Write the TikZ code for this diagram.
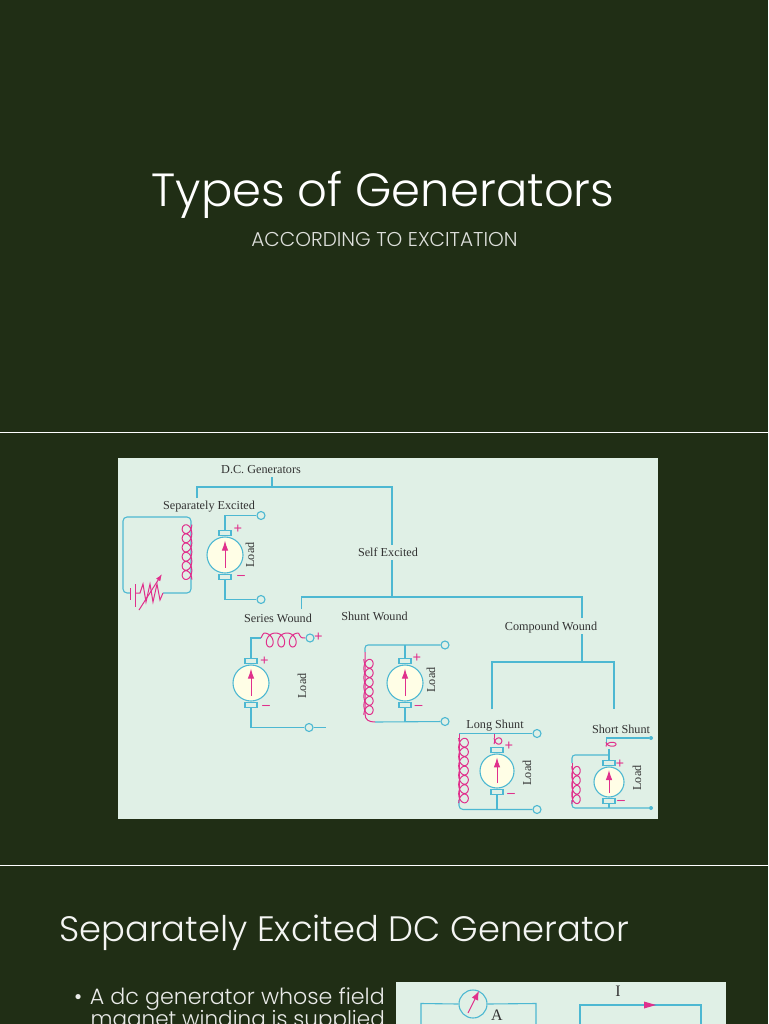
\documentclass[tikz,border=0pt]{standalone}
\usepackage{fontspec}
\setmainfont{Poppins}[UprightFont=* Light]
\newfontfamily\labelfont{Liberation Serif}
\usetikzlibrary{positioning,arrows.meta}
\definecolor{slidebg}{HTML}{202E15}
\definecolor{panelbg}{HTML}{E0F0E6}
\definecolor{wirecol}{HTML}{4DB8D2}
\definecolor{coilcol}{HTML}{E0308C}
\definecolor{inkcol}{HTML}{333333}
\tikzset{
    wire/.style={draw=wirecol,line width=1.1pt},
    magline/.style={draw=coilcol,line width=1pt},
    armature/.style={circle,draw=wirecol,fill=yellow!10,line width=1.1pt,inner sep=0pt},
    brush/.style={rectangle,draw=wirecol,fill=panelbg,line width=1.1pt,inner sep=0pt,
        minimum width=12pt,minimum height=5.5pt},
    terminal/.style={circle,draw=wirecol,fill=panelbg,line width=1.1pt,inner sep=0pt,minimum size=8pt},
    tinyterm/.style={circle,fill=wirecol,inner sep=0pt,minimum size=4pt},
    caption/.style={font=\labelfont\fontsize{12.2}{12.2}\selectfont,text=inkcol,inner sep=0pt},
    loadtag/.style={caption,rotate=90},
    polarity/.style={font=\labelfont\bfseries\fontsize{15}{15}\selectfont,text=coilcol,inner sep=0pt},
    slidetext/.style={text=#1,inner sep=0pt},
    rulewhite/.style={draw=white,line width=0.7pt},
}
\newcommand{\dynamo}[3]{
    \node[armature,minimum size=#3pt] (#1) at (#2) {};
    \node[brush,above=0pt of #1] (#1t) {};
    \node[brush,below=0pt of #1] (#1b) {};
    \draw[magline,-{Latex[length=10pt,width=6.5pt]}] ([yshift=-0.36*#3pt]#1.center) -- ([yshift=0.4*#3pt]#1.center);
}
% x, top y, turns, pitch, x radius, y radius
\newcommand{\vcoil}[6]{
    \draw[magline,variable=\ang,domain=0:#3*360,samples=\the\numexpr#3*36+1\relax]
        plot ({#1+#5*cos(\ang)},{#2+#4*(\ang/360)+#6*sin(\ang)});
}
\newcommand{\hcoil}[6]{
    \draw[magline,variable=\ang,domain=0:#3*360,samples=\the\numexpr#3*36+1\relax]
        plot ({#1+#4*(\ang/360)+#5*sin(\ang)},{#2-#6*cos(\ang)});
}
\begin{document}
\begin{tikzpicture}[x=1pt,y=-1pt]
    \useasboundingbox (0,0) rectangle (768,1024);
    \fill[slidebg] (0,0) rectangle (768,1024);
    \node[slidetext=white,font=\fontsize{46.5}{46.5}\selectfont] (title) at (383,195) {Types of Generators};
    \node[slidetext=white!85!slidebg,font=\fontsize{20}{20}\selectfont] (subtitle) at (384.5,239) {ACCORDING TO EXCITATION};
    \draw[rulewhite] (0,432.5) -- (768,432.5);
    \draw[rulewhite] (0,865.5) -- (768,865.5);
    \node[slidetext=white!95!slidebg,font=\fontsize{35.3}{35.3}\selectfont,anchor=west] (heading) at (59,933) {Separately Excited DC Generator};
    \node[slidetext=white!90!slidebg,font=\fontsize{22.2}{22.2}\selectfont,anchor=base west] (bullet) at (74,1004) {•};
    \node[slidetext=white!90!slidebg,font=\fontsize{22.2}{22.2}\selectfont,anchor=base east] (lineone) at (385,1004) {A dc generator whose field};
    \node[slidetext=white!90!slidebg,font=\fontsize{21.5}{21.5}\selectfont,anchor=base east] (linetwo) at (385,1026) {magnet winding is supplied};

    % main panel
    \fill[panelbg] (118,458) rectangle (658,819);
    \node[caption] (dcgen) at (261,470) {D.C. Generators};
    \node[caption] (sepex) at (209,507) {Separately Excited};
    \node[caption] (selfex) at (388,552) {Self Excited};
    \node[caption] (series) at (278,618) {Series Wound};
    \node[caption] (shunt) at (374.5,616.5) {Shunt Wound};
    \node[caption] (compound) at (551,628) {Compound Wound};
    \node[caption] (longsh) at (495,726) {Long Shunt};
    \node[caption] (shortsh) at (621,729.5) {Short Shunt};

    % tree
    \coordinate (treeL) at (197,487);
    \coordinate (treeR) at (392,487);
    \draw[wire] (272,477) -- (272,487);
    \draw[wire] (197,498) -- (treeL) -- (treeR) -- (392,545);
    \draw[wire] (392,560) -- (392,597);
    \draw[wire] (301.5,609) -- (301.5,597) -- (582,597) -- (582,618);
    \draw[wire] (582,634) -- (582,662);
    \draw[wire] (492,709) -- (492,662) -- (614,662) -- (614,709);

    % separately excited
    \dynamo{sa}{225,555}{36}
    \node[terminal] (sa1) at (261,515.5) {};
    \node[terminal] (sa2) at (261,599.5) {};
    \draw[wire] (sat) |- (sa1);
    \draw[wire] (sab) |- (sa2);
    \node[polarity] at (238,529) {+};
    \node[polarity] at (241,577) {–};
    \node[loadtag] (saload) at (250,555) {Load};
    \draw[wire,rounded corners=4pt] (130,593) -- (123,593) -- (123,517) -- (191,517) -- (191,593) -- (163,593);
    \vcoil{187}{524.5}{6}{9.2}{4.8}{6.5}
    \draw[magline] (130,588) -- (130,600);
    \draw[magline] (135,584) -- (135,607);
    \draw[magline] (135,593) -- (140,593) -- (143,584) -- (146,602) -- (150,584) -- (153,602) -- (157,584) -- (160,600) -- (163,593);
    \draw[magline,-{Latex[length=7pt,width=5pt]}] (139,610) -- (162,574);

    % series
    \dynamo{sb}{251,683}{36}
    \node[terminal] (sb1) at (310,638) {};
    \node[terminal] (sb2) at (309,727.5) {};
    \coordinate (sbend) at (326,727.5);
    \draw[wire] (sbt) |- (261,638);
    \draw[wire] (sbb) |- (sb2);
    \draw[wire] (sb2) -- (sbend);
    \draw[magline] (261,638) .. controls (263,634) .. (264,633);
    \hcoil{264}{640}{3}{11.5}{6}{7}
    \draw[magline] (298.5,633) .. controls (301,638) .. (305,638);
    \node[polarity] at (318.5,637.5) {+};
    \node[polarity] at (264.5,661) {+};
    \node[polarity] at (266,707) {–};
    \node[loadtag] (sbload) at (302,686) {Load};

    % shunt
    \dynamo{sc}{405,683}{36}
    \node[terminal] (sc1) at (445,645) {};
    \node[terminal] (sc2) at (445,721.5) {};
    \draw[wire,rounded corners=3pt] (365,652) -- (365,645) -- (sc1);
    \draw[wire] (375,722) -- (sc2);
    \draw[wire] (sct) -- (405,645);
    \draw[wire] (scb) -- (405,722);
    \draw[magline] (365,652) -- (365,714) .. controls (365,720) and (369,722) .. (375,722);
    \vcoil{368.5}{659}{6}{9.3}{-4.6}{6.5}
    \node[polarity] at (417,658) {+};
    \node[polarity] at (418.5,707) {–};
    \node[loadtag] (scload) at (431,680) {Load};

    % long shunt
    \dynamo{sd}{497,771}{34}
    \node[terminal] (sd1) at (537,733.5) {};
    \node[terminal] (sd2) at (537,809.5) {};
    \draw[wire] (459,733.5) -- (sd1);
    \draw[wire,rounded corners=4pt] (459,800) -- (459,809.5) -- (sd2);
    \draw[wire] (sdb) -- (497,809.5);
    \draw[magline] (459,733.5) -- (459,800);
    \vcoil{463.5}{738}{7}{9.3}{-4.8}{6.5}
    \draw[magline] (494.5,733.5) -- (494.5,738);
    \vcoil{498}{738}{1}{6}{-3.8}{4.5}
    \node[polarity] at (509,746) {+};
    \node[polarity] at (511,795.5) {–};
    \node[loadtag] (sdload) at (527,773) {Load};

    % short shunt
    \dynamo{se}{609,782}{30}
    \node[tinyterm] (se1) at (651,738) {};
    \node[tinyterm] (se2) at (651,808) {};
    \draw[wire] (606.5,743) -- (606.5,738) -- (se1);
    \draw[wire] (609,749) -- (set);
    \draw[wire,rounded corners=3pt] (572,763) -- (572,755) -- (609,755);
    \draw[wire,rounded corners=3pt] (572,800) -- (572,808) -- (se2);
    \draw[wire] (seb) -- (609,808);
    \draw[magline] (572,763) -- (572,802);
    \vcoil{576}{766}{4}{9.5}{-4.2}{6.5}
    \vcoil{611}{742}{1}{4.5}{-5}{3}
    \node[polarity] at (620,764) {+};
    \node[polarity] at (621,802) {–};
    \node[loadtag] (seload) at (637,778) {Load};

    % lower panel
    \fill[panelbg] (396,982) rectangle (726,1030);
    \node[armature,fill=panelbg,minimum size=28pt] (amm) at (473,1004) {};
    \node[caption,font=\labelfont\fontsize{16}{16}\selectfont] (ammlab) at (497,1015) {A};
    \node[caption,font=\labelfont\fontsize{16}{16}\selectfont] (curlab) at (618,991) {I};
    \draw[wire] (amm.west) -- (421,1003.5) -- (421,1030);
    \draw[wire] (amm.east) -- (536,1003.5) -- (536,1030);
    \draw[magline,-{Latex[length=9pt,width=7pt]}] (468,1013) -- (479,991);
    \draw[wire] (580,1030) -- (580,1005) -- (701,1005) -- (701,1030);
    \fill[coilcol] (644,1001.5) -- (656,1005) -- (644,1008.5) -- cycle;
\end{tikzpicture}
\end{document}
